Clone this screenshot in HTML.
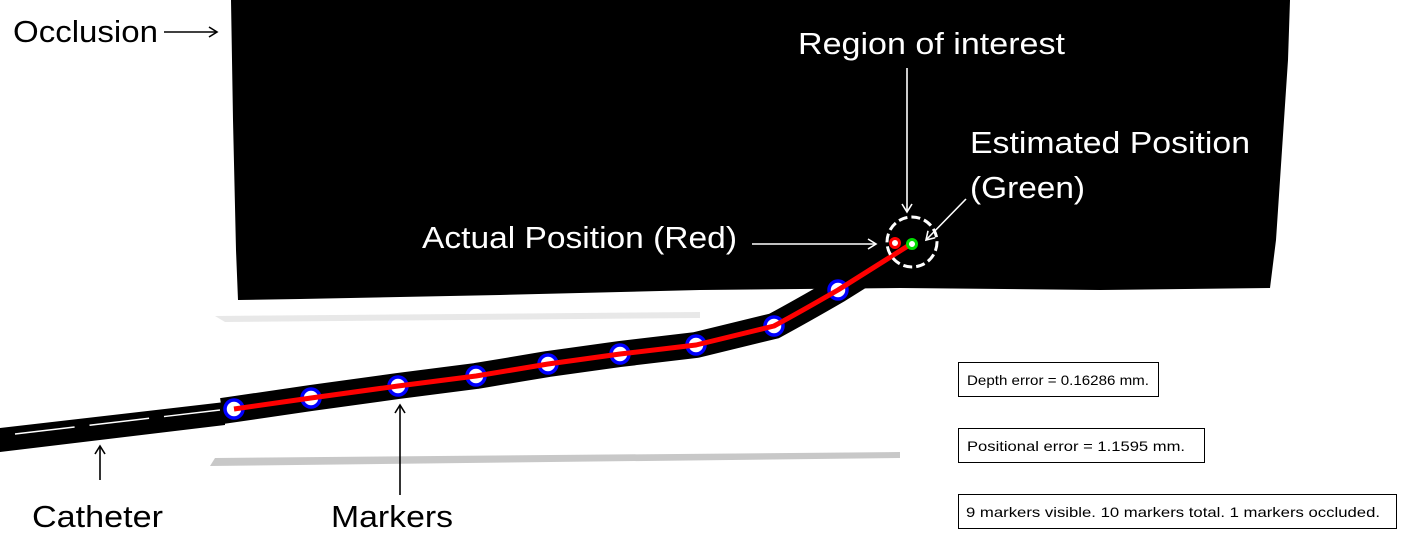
<!DOCTYPE html>
<html><head><meta charset="utf-8"><style>
html,body{margin:0;padding:0;background:#fff;}
svg{display:block;}
.lbl{font-family:"Liberation Sans",sans-serif;font-size:31px;}
.box{font-family:"Liberation Sans",sans-serif;font-size:14px;fill:#000;}
</style></head><body>
<svg width="1427" height="544" viewBox="0 0 1427 544" xmlns="http://www.w3.org/2000/svg">
<defs>
<marker id="aw" markerWidth="12" markerHeight="12" refX="10" refY="6" orient="auto" markerUnits="userSpaceOnUse"><path d="M2,1 L10,6 L2,11" fill="none" stroke="#fff" stroke-width="1.6"/></marker>
<marker id="ab" markerWidth="12" markerHeight="12" refX="10" refY="6" orient="auto" markerUnits="userSpaceOnUse"><path d="M2,1 L10,6 L2,11" fill="none" stroke="#000" stroke-width="1.6"/></marker>
</defs>
<path d="M231,0 L1290,0 L1288,60 L1282,150 L1276,240 L1270,288 L1100,290 L900,288 L700,290 L500,295 L300,299 L238,300 L236,250 L233,120 Z" fill="#000"/>
<path d="M215,316 L700,312 L700,318 L225,322 Z" fill="#e8e8e8"/>
<path d="M215,458 L900,452 L900,458 L210,466 Z" fill="#c8c8c8"/>
<path d="M0,428 L225,402 L225,425 L0,452 Z" fill="#000"/>
<path d="M222,411 L311,398 L398,386 L476,376 L548,364 L620,354 L696,345 L774,326 Q800,312 838,290 L905,248" fill="none" stroke="#000" stroke-width="26" stroke-linejoin="round"/>
<line x1="15" y1="434" x2="220" y2="410" stroke="#fff" stroke-width="1.5" stroke-dasharray="60,15"/>
<g fill="#fff" stroke="#00f" stroke-width="3.5">
<circle cx="234" cy="409" r="9"/><circle cx="311" cy="398" r="9"/><circle cx="398" cy="386" r="9"/><circle cx="476" cy="376" r="9"/><circle cx="548" cy="364" r="9"/><circle cx="620" cy="354" r="9"/><circle cx="696" cy="345" r="9"/><circle cx="774" cy="326" r="9"/><circle cx="838" cy="290" r="9"/>
</g>
<path d="M234,409 L311,398 L398,386 L476,376 L548,364 L620,354 L696,345 L774,326 Q800,312 838,290 L911,244" fill="none" stroke="#f00" stroke-width="5" stroke-linejoin="round"/>
<circle cx="912" cy="242" r="25" fill="none" stroke="#fff" stroke-width="3" stroke-dasharray="9,4"/>
<circle cx="895" cy="243" r="4.5" fill="#fff" stroke="#f00" stroke-width="3"/>
<circle cx="912" cy="244" r="4.5" fill="#fff" stroke="#0d0" stroke-width="3"/>
<text class="lbl" x="13" y="42" fill="#000" textLength="145" lengthAdjust="spacingAndGlyphs">Occlusion</text>
<line x1="164" y1="32" x2="217" y2="32" stroke="#000" stroke-width="1.6" marker-end="url(#ab)"/>
<text class="lbl" x="798" y="54" fill="#fff" textLength="267" lengthAdjust="spacingAndGlyphs">Region of interest</text>
<line x1="907" y1="68" x2="907" y2="212" stroke="#fff" stroke-width="1.6" marker-end="url(#aw)"/>
<text class="lbl" x="970" y="153" fill="#fff" textLength="280" lengthAdjust="spacingAndGlyphs">Estimated Position</text>
<text class="lbl" x="970" y="198" fill="#fff" textLength="115" lengthAdjust="spacingAndGlyphs">(Green)</text>
<line x1="966" y1="199" x2="926" y2="240" stroke="#fff" stroke-width="1.6" marker-end="url(#aw)"/>
<text class="lbl" x="422" y="248" fill="#fff" textLength="315" lengthAdjust="spacingAndGlyphs">Actual Position (Red)</text>
<line x1="752" y1="244" x2="876" y2="244" stroke="#fff" stroke-width="1.6" marker-end="url(#aw)"/>
<text class="lbl" x="32" y="527" fill="#000" textLength="131" lengthAdjust="spacingAndGlyphs">Catheter</text>
<line x1="100" y1="480" x2="100" y2="446" stroke="#000" stroke-width="1.6" marker-end="url(#ab)"/>
<text class="lbl" x="331" y="527" fill="#000" textLength="122" lengthAdjust="spacingAndGlyphs">Markers</text>
<line x1="400" y1="495" x2="400" y2="405" stroke="#000" stroke-width="1.6" marker-end="url(#ab)"/>
<rect x="958.5" y="362.5" width="200" height="34" fill="#fff" stroke="#000"/>
<text class="box" x="967" y="385" textLength="182" lengthAdjust="spacingAndGlyphs">Depth error = 0.16286 mm.</text>
<rect x="958.5" y="428.5" width="246" height="34" fill="#fff" stroke="#000"/>
<text class="box" x="967" y="451" textLength="218" lengthAdjust="spacingAndGlyphs">Positional error = 1.1595 mm.</text>
<rect x="958.5" y="494.5" width="438" height="34" fill="#fff" stroke="#000"/>
<text class="box" x="966" y="517" textLength="414" lengthAdjust="spacingAndGlyphs">9 markers visible. 10 markers total. 1 markers occluded.</text>
</svg>
</body></html>
